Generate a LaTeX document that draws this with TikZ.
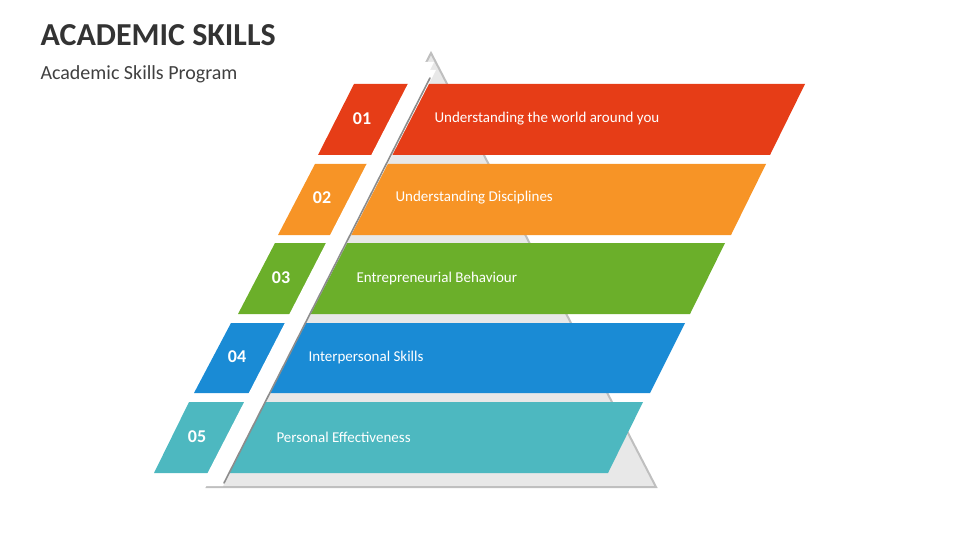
\documentclass[tikz,border=0pt]{standalone}
\usepackage{fontspec}
\setmainfont{Carlito}
\definecolor{cA}{HTML}{E63D17}
\definecolor{cB}{HTML}{F79426}
\definecolor{cC}{HTML}{6BAF2A}
\definecolor{cD}{HTML}{1A8BD5}
\definecolor{cE}{HTML}{4DB8C0}
\begin{document}
\begin{tikzpicture}[x=1pt,y=-1pt,
  num/.style={text=white,font=\fontsize{18}{20}\selectfont\bfseries},
  lbl/.style={text=white,anchor=west,font=\fontsize{15}{17}\selectfont},
  band/.style={draw=none}]
\useasboundingbox (0,0) rectangle (960,540);
\node[anchor=west,text=black!80,font=\fontsize{32}{36}\selectfont\bfseries] (title) at (37,35) {ACADEMIC SKILLS};
\node[anchor=west,text=black!75,font=\fontsize{20}{24}\selectfont] (sub) at (37,74) {Academic Skills Program};
% triangle
\draw[fill=black!9,draw=black!25,line width=2pt] (431,53) -- (656,487) -- (207,487) -- cycle;
% bands
\fill[cA] (354,84) -- (805,84) -- (770,155) -- (318,155) -- cycle;
\fill[cB] (315,164) -- (766,164) -- (731,235) -- (278,235) -- cycle;
\fill[cC] (275,243) -- (725,243) -- (690,314) -- (238,314) -- cycle;
\fill[cD] (231,323) -- (685,323) -- (650,393) -- (194,393) -- cycle;
\fill[cE] (189,402) -- (643,402) -- (608,473) -- (154,473) -- cycle;
% white strip
\fill[white] (424,62) -- (434,62) -- (223,486) -- (204,486) -- cycle;
\fill[white] (415,70) -- (436,70) -- (223,484) -- (202,484) -- cycle;
\draw[black!45,line width=1.6pt,line cap=round] (430,78) -- (224,483);
% labels
\node[num] (n1) at (362,119) {01};
\node[num] (n2) at (322,198) {02};
\node[num] (n3) at (281,278) {03};
\node[num] (n4) at (237,357) {04};
\node[num] (n5) at (197,437) {05};
\node[lbl] (t1) at (431,119) {Understanding the world around you};
\node[lbl] (t2) at (392,198) {Understanding Disciplines};
\node[lbl] (t3) at (353,278) {Entrepreneurial Behaviour};
\node[lbl] (t4) at (305,357) {Interpersonal Skills};
\node[lbl] (t5) at (273,437) {Personal Effectiveness};
\end{tikzpicture}
\end{document}
